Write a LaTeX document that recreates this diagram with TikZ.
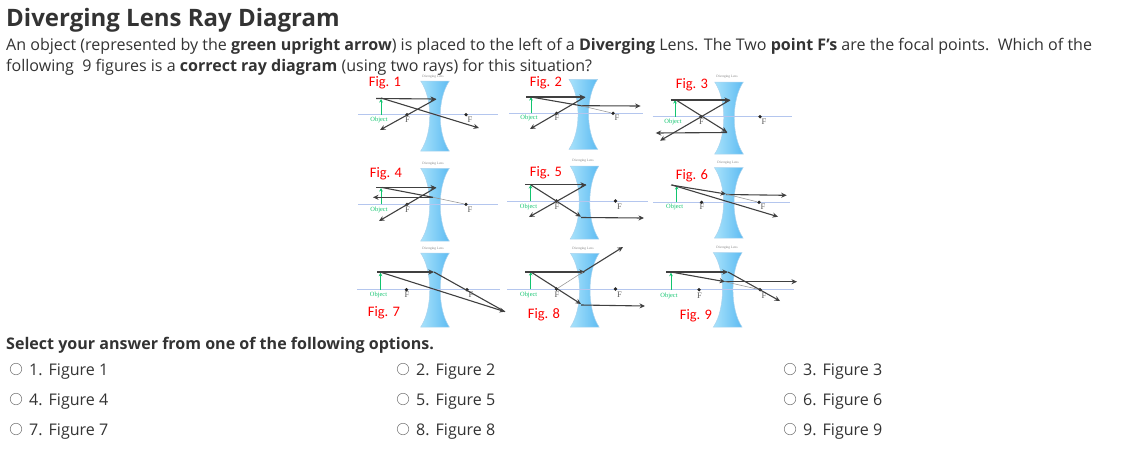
\documentclass[tikz,border=0pt]{standalone}
\usepackage{fontspec}
\setmainfont{Open Sans}
\newfontfamily\figfont{Carlito}
\newfontfamily\smallfont{Liberation Serif}
\usetikzlibrary{arrows.meta}

\definecolor{inktext}{HTML}{333333}
\definecolor{axisblue}{HTML}{B4C6EE}
\definecolor{objgreen}{HTML}{12C46F}
\definecolor{lensleft}{HTML}{A8E2FB}
\definecolor{lensright}{HTML}{5DBBF2}
\definecolor{lensedge}{HTML}{A9D3EE}

\tikzset{
  line/.style={anchor=base west,inner sep=0pt,text=inktext,font=\fontsize{16.05}{18}\selectfont},
  lensbody/.style={draw=lensedge,line width=.5pt,left color=lensleft,right color=lensright},
  axisline/.style={draw=axisblue,line width=1pt},
  objarrow/.style={draw=objgreen,line width=.9pt,-{Stealth[length=3.5pt,width=3.5pt]}},
  ray/.style={draw=black!75,line width=1.1pt,-{Stealth[length=5.5pt,width=5pt]}},
  plainray/.style={draw=black!75,line width=1.1pt},
  faintray/.style={draw=black!40,line width=.6pt},
  fdot/.style={circle,fill=black!85,inner sep=0pt,minimum size=3.6pt},
  flabel/.style={text=black!65,inner sep=0pt,font=\smallfont\fontsize{8.5}{9}\selectfont},
  objlabel/.style={text=objgreen,inner sep=0pt,font=\smallfont\fontsize{6.4}{7}\selectfont},
  figlabel/.style={text=red,inner sep=0pt,font=\figfont\fontsize{14.5}{16}\selectfont},
  lenslabel/.style={text=black!50,inner sep=0pt,font=\smallfont\fontsize{3.4}{4}\selectfont},
  radio/.style={circle,draw=black!50,line width=.6pt,inner sep=0pt,minimum size=11.5pt},
}

\begin{document}
\begin{tikzpicture}[x=1pt,y=-1pt]
  \useasboundingbox (0,0) rectangle (1129,456);

  % question text
  \node[line,font=\bfseries\fontsize{24}{26}\selectfont] (title) at (6,26) {Diverging Lens Ray Diagram};
  \node[line] (textone) at (6,50) {An object (represented by the \textbf{green upright arrow}) is placed to the left of a \textbf{Diverging} Lens. The Two \textbf{point F's} are the focal points.\ \ Which of the};
  \node[line] (texttwo) at (6,71) {following\ \ 9 figures is a \textbf{correct ray diagram} (using two rays) for this situation?};

  % lens, axis, object, focal points, caption
  \foreach \n/\cx/\top/\bot/\ay/\xa/\xb/\ox/\oy/\fa/\fb/\fby/\capx/\capy in {
    1/435/81/151/114.7/358/498/381/99/407/466/120/385/83,
    2/583.3/79.3/149.3/113.3/509/643/531/97/556.5/613/118/546/83,
    3/729/82/154/116.7/652.7/791.7/675/100/701/760/122/692/85,
    4/435/168.3/241/204.3/358/498/381/188/407/466/210/386/174,
    5/584.5/166/239/201/507/648/530.5/185/556.5/615.5/207/546/173,
    6/728.8/167.7/238/202.3/653/790/676.7/186/701.5/759/207/692/176,
    7/435/253/327/289.7/357/500/380.5/272.7/406.5/467/295/384/313,
    8/584.8/253.3/327/289/507/647/530.7/272/556.5/615.5/295/544/315,
    9/727.7/252.7/327/289.7/647/794/671/272.7/699/760/296/696/316}{
    \path[lensbody] (\cx-14.3,\top) -- (\cx+14.3,\top)
      .. controls (\cx+2.2,\top+18) and (\cx+2.2,\bot-18) .. (\cx+14.3,\bot)
      -- (\cx-14.3,\bot)
      .. controls (\cx-2.2,\bot-18) and (\cx-2.2,\top+18) .. cycle;
    \draw[axisline] (\xa,\ay) -- (\xb,\ay);
    \coordinate (base\n) at (\ox,\ay);
    \coordinate (tip\n) at (\ox,\oy);
    \draw[objarrow] (base\n) -- (tip\n);
    \node[fdot] (fa\n) at (\fa,\ay) {};
    \node[fdot] (fb\n) at (\fb,\ay) {};
    \node[flabel] (fatext\n) at (\fa+.5,\fby) {F};
    \node[flabel] (fbtext\n) at (\fb+4,\fby) {F};
    \node[objlabel] (obj\n) at (\ox-2,\fby) {Object};
    \node[figlabel] (fig\n) at (\capx,\capy) {Fig. \n};
  }

  % lens names, there is none in fig 2
  \foreach \n/\x/\y in {1/433/77,3/727/77,4/433/164,5/583/161,6/728/163,7/433/249,8/583/249,9/727/248}{
    \node[lenslabel] (lens\n) at (\x,\y) {Diverging Lens};
  }

  % fig 1
  \draw[ray] (376,98.5) -- (436,99);
  \draw[ray] (436,99) -- (380,130);
  \draw[ray] (381,98) -- (479,128);

  % fig 2
  \draw[ray] (526,97) -- (585,97);
  \draw[ray] (585,97) -- (530,129);
  \draw[plainray] (531,97) -- (581,105.7);
  \draw[ray] (581,105.7) -- (640.6,106);
  \draw[faintray] (581,105.7) -- (fb2);

  % fig 3
  \draw[ray] (670.6,100) -- (730,100);
  \draw[ray] (730,100) -- (660,140.7);
  \draw[ray] (676,100) -- (727,132);
  \draw[ray] (727,132.5) -- (655.7,133);

  % fig 4
  \draw[ray] (376,187.5) -- (436,187.5);
  \draw[ray] (436,187.5) -- (379,221);
  \draw[plainray] (382,187.5) -- (433,197.3);
  \draw[ray] (433,197.3) -- (373,197.3);
  \draw[faintray] (433,197.3) -- (fb4);

  % fig 5
  \draw[ray] (525,184.7) -- (586,184.7);
  \draw[ray] (586,184.7) -- (529,217);
  \draw[ray] (531,185) -- (581,216.7);
  \draw[ray] (581,217.5) -- (644,218);

  % fig 6
  \draw[ray] (671,185) -- (726,194);
  \draw[ray] (726,194.5) -- (786.7,195.3);
  \draw[faintray] (726,194) -- (fb6);
  \draw[ray] (672,185) -- (778,216.7);

  % fig 7
  \draw[ray] (377,272) -- (434,272);
  \draw[plainray] (434,272) -- (505,311.7);
  \draw[ray] (380,272) -- (505,311.7);

  % fig 8
  \draw[ray] (525,272) -- (585,272);
  \draw[ray] (583,272) -- (623,247);
  \draw[faintray] (583,272) -- (fa8);
  \draw[ray] (531,272) -- (581,304);
  \draw[ray] (581,305) -- (645,306);

  % fig 9
  \draw[ray] (666,272) -- (728,272);
  \draw[ray] (728,272) -- (780,301);
  \draw[ray] (671,272) -- (725,281.7);
  \draw[ray] (725,281.7) -- (797,281.7);
  \draw[faintray] (725,281.7) -- (fb9);

  % answers
  \node[line,font=\bfseries\fontsize{16.05}{18}\selectfont] (select) at (6,349) {Select your answer from one of the following options.};
  \foreach \n/\x/\y in {1/16/369,2/403/369,3/790/369,4/16/399,5/403/399,6/790/399,7/16/429,8/403/429,9/790/429}{
    \node[radio] (radio\n) at (\x,\y) {};
    \node[line] (num\n) at (\x+13,\y+6.3) {\n.};
    \node[line] (answer\n) at (\x+32.5,\y+6.3) {Figure \n};
  }
\end{tikzpicture}
\end{document}
